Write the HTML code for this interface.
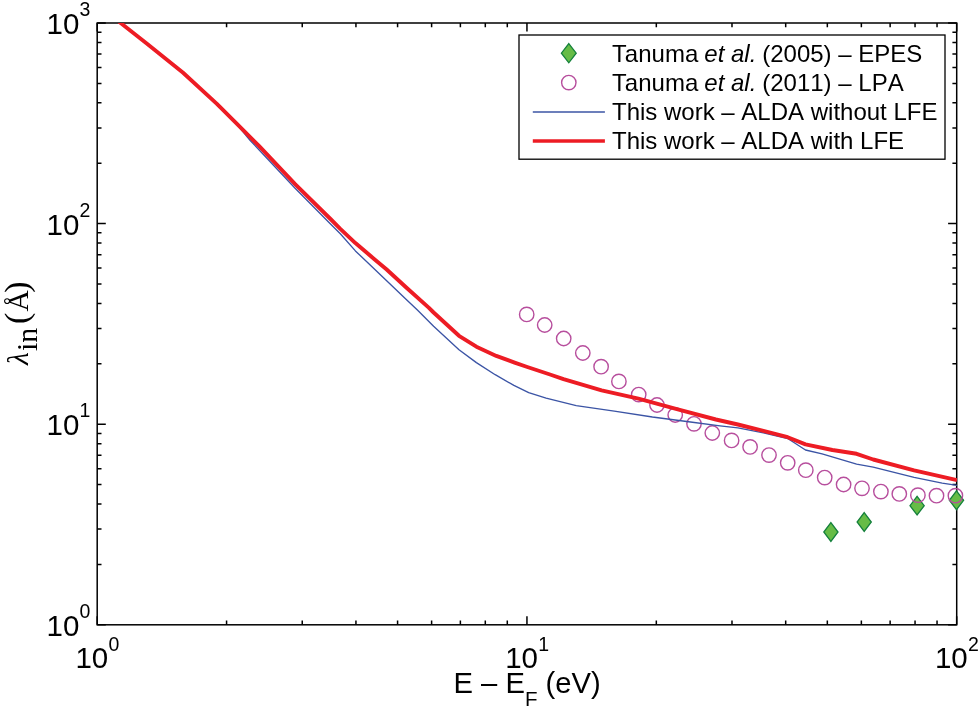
<!DOCTYPE html>
<html lang="en"><head><meta charset="utf-8"><title>Inelastic mean free path</title>
<style>
html,body{margin:0;padding:0;background:#fff;}
body{width:979px;height:709px;overflow:hidden;}
svg{display:block;}
text{font-family:"Liberation Sans",Arial,Helvetica,sans-serif;fill:#000;font-kerning:none;}
.tk{font-size:29.5px;}
.sp{font-size:19.5px;}
.lg{font-size:24px;}
.sf{font-family:"Liberation Serif","DejaVu Serif",serif;}
</style></head><body>
<svg width="979" height="709" viewBox="0 0 979 709">
<rect x="0" y="0" width="979" height="709" fill="#ffffff"/>
<defs><clipPath id="ax"><rect x="97.2" y="23.0" width="859.9" height="601.8"/></clipPath></defs>

<path d="M97.20 624.8 v-8.6 M97.20 23.0 v8.6 M226.57 624.8 v-4.3 M226.57 23.0 v4.3 M302.24 624.8 v-4.3 M302.24 23.0 v4.3 M355.94 624.8 v-4.3 M355.94 23.0 v4.3 M397.58 624.8 v-4.3 M397.58 23.0 v4.3 M431.61 624.8 v-4.3 M431.61 23.0 v4.3 M460.38 624.8 v-4.3 M460.38 23.0 v4.3 M485.30 624.8 v-4.3 M485.30 23.0 v4.3 M507.29 624.8 v-4.3 M507.29 23.0 v4.3 M526.95 624.8 v-8.6 M526.95 23.0 v8.6 M656.32 624.8 v-4.3 M656.32 23.0 v4.3 M731.99 624.8 v-4.3 M731.99 23.0 v4.3 M785.69 624.8 v-4.3 M785.69 23.0 v4.3 M827.33 624.8 v-4.3 M827.33 23.0 v4.3 M861.36 624.8 v-4.3 M861.36 23.0 v4.3 M890.13 624.8 v-4.3 M890.13 23.0 v4.3 M915.05 624.8 v-4.3 M915.05 23.0 v4.3 M937.04 624.8 v-4.3 M937.04 23.0 v4.3 M956.7 624.8 v-8.6 M956.7 23.0 v8.6 M97.2 624.80 h8.6 M956.7 624.80 h-8.6 M97.2 564.41 h4.3 M956.7 564.41 h-4.3 M97.2 529.09 h4.3 M956.7 529.09 h-4.3 M97.2 504.03 h4.3 M956.7 504.03 h-4.3 M97.2 484.59 h4.3 M956.7 484.59 h-4.3 M97.2 468.70 h4.3 M956.7 468.70 h-4.3 M97.2 455.27 h4.3 M956.7 455.27 h-4.3 M97.2 443.64 h4.3 M956.7 443.64 h-4.3 M97.2 433.38 h4.3 M956.7 433.38 h-4.3 M97.2 424.20 h8.6 M956.7 424.20 h-8.6 M97.2 363.81 h4.3 M956.7 363.81 h-4.3 M97.2 328.49 h4.3 M956.7 328.49 h-4.3 M97.2 303.43 h4.3 M956.7 303.43 h-4.3 M97.2 283.99 h4.3 M956.7 283.99 h-4.3 M97.2 268.10 h4.3 M956.7 268.10 h-4.3 M97.2 254.67 h4.3 M956.7 254.67 h-4.3 M97.2 243.04 h4.3 M956.7 243.04 h-4.3 M97.2 232.78 h4.3 M956.7 232.78 h-4.3 M97.2 223.60 h8.6 M956.7 223.60 h-8.6 M97.2 163.21 h4.3 M956.7 163.21 h-4.3 M97.2 127.89 h4.3 M956.7 127.89 h-4.3 M97.2 102.83 h4.3 M956.7 102.83 h-4.3 M97.2 83.39 h4.3 M956.7 83.39 h-4.3 M97.2 67.50 h4.3 M956.7 67.50 h-4.3 M97.2 54.07 h4.3 M956.7 54.07 h-4.3 M97.2 42.44 h4.3 M956.7 42.44 h-4.3 M97.2 32.18 h4.3 M956.7 32.18 h-4.3 M97.2 23.00 h8.6 M956.7 23.00 h-8.6" stroke="#000" stroke-width="1.5" fill="none"/>
<rect x="97.2" y="23.0" width="859.5" height="601.8" fill="none" stroke="#000" stroke-width="1.5"/>
<polygon points="830.9,522.6 838.0,532.0 830.9,541.4 823.8,532.0" fill="#66bc46" stroke="#14803c" stroke-width="1.3" stroke-linejoin="miter"/>
<polygon points="864.2,512.6 871.3,522.0 864.2,531.4 857.1,522.0" fill="#66bc46" stroke="#14803c" stroke-width="1.3" stroke-linejoin="miter"/>
<polygon points="917.1,496.3 924.2,505.7 917.1,515.0 910.0,505.7" fill="#66bc46" stroke="#14803c" stroke-width="1.3" stroke-linejoin="miter"/>
<polygon points="956.5,490.9 963.6,500.3 956.5,509.7 949.4,500.3" fill="#66bc46" stroke="#14803c" stroke-width="1.3" stroke-linejoin="miter"/>
<circle cx="526.7" cy="314.4" r="7.2" fill="none" stroke="#b74e9d" stroke-width="1.4"/>
<circle cx="544.7" cy="325.0" r="7.2" fill="none" stroke="#b74e9d" stroke-width="1.4"/>
<circle cx="563.7" cy="338.5" r="7.2" fill="none" stroke="#b74e9d" stroke-width="1.4"/>
<circle cx="582.8" cy="353.0" r="7.2" fill="none" stroke="#b74e9d" stroke-width="1.4"/>
<circle cx="601.1" cy="366.7" r="7.2" fill="none" stroke="#b74e9d" stroke-width="1.4"/>
<circle cx="618.9" cy="381.4" r="7.2" fill="none" stroke="#b74e9d" stroke-width="1.4"/>
<circle cx="638.7" cy="394.6" r="7.2" fill="none" stroke="#b74e9d" stroke-width="1.4"/>
<circle cx="657.0" cy="405.0" r="7.2" fill="none" stroke="#b74e9d" stroke-width="1.4"/>
<circle cx="675.2" cy="415.0" r="7.2" fill="none" stroke="#b74e9d" stroke-width="1.4"/>
<circle cx="694.0" cy="423.8" r="7.2" fill="none" stroke="#b74e9d" stroke-width="1.4"/>
<circle cx="712.3" cy="433.0" r="7.2" fill="none" stroke="#b74e9d" stroke-width="1.4"/>
<circle cx="731.6" cy="440.4" r="7.2" fill="none" stroke="#b74e9d" stroke-width="1.4"/>
<circle cx="750.1" cy="446.9" r="7.2" fill="none" stroke="#b74e9d" stroke-width="1.4"/>
<circle cx="769.0" cy="455.1" r="7.2" fill="none" stroke="#b74e9d" stroke-width="1.4"/>
<circle cx="787.7" cy="462.8" r="7.2" fill="none" stroke="#b74e9d" stroke-width="1.4"/>
<circle cx="805.8" cy="470.2" r="7.2" fill="none" stroke="#b74e9d" stroke-width="1.4"/>
<circle cx="824.7" cy="477.6" r="7.2" fill="none" stroke="#b74e9d" stroke-width="1.4"/>
<circle cx="843.6" cy="484.5" r="7.2" fill="none" stroke="#b74e9d" stroke-width="1.4"/>
<circle cx="862.0" cy="488.3" r="7.2" fill="none" stroke="#b74e9d" stroke-width="1.4"/>
<circle cx="880.9" cy="491.6" r="7.2" fill="none" stroke="#b74e9d" stroke-width="1.4"/>
<circle cx="899.3" cy="493.9" r="7.2" fill="none" stroke="#b74e9d" stroke-width="1.4"/>
<circle cx="917.9" cy="495.2" r="7.2" fill="none" stroke="#b74e9d" stroke-width="1.4"/>
<circle cx="936.5" cy="495.7" r="7.2" fill="none" stroke="#b74e9d" stroke-width="1.4"/>
<circle cx="955.4" cy="495.7" r="7.2" fill="none" stroke="#b74e9d" stroke-width="1.4"/>
<g clip-path="url(#ax)">
<polyline points="97.0,4.0 121.0,23.3 146.4,43.2 183.1,72.8 216.9,103.9 236.7,124.0 250.0,140.2 295.1,188.2 330.0,223.4 340.3,233.8 355.4,250.9 386.4,280.5 406.8,300.1 417.4,310.0 433.6,326.2 459.0,349.7 476.4,362.6 495.2,374.7 513.9,385.4 528.7,392.6 546.1,398.2 576.2,405.6 614.3,411.1 652.4,417.0 690.5,422.0 720.0,425.8 737.9,427.8 763.4,432.9 787.7,438.5 805.5,450.0 822.1,453.8 856.6,464.1 873.2,467.1 914.1,477.3 942.2,483.2 957.0,485.4" fill="none" stroke="#3b54a5" stroke-width="1.35" stroke-linejoin="round"/>
<polyline points="97.0,4.0 121.0,23.3 146.4,43.2 183.1,72.8 216.9,103.9 236.7,123.6 259.2,146.2 295.1,184.2 330.0,218.5 340.3,228.8 355.4,243.1 374.1,258.9 386.4,269.2 406.8,288.0 428.7,307.6 433.6,312.5 459.0,335.8 476.4,346.7 496.3,355.9 514.6,362.6 527.3,367.0 550.0,374.5 563.5,379.2 601.6,390.3 638.4,398.7 677.8,409.4 715.9,419.5 737.9,424.5 763.4,430.9 787.7,437.2 805.5,444.4 832.4,450.0 856.6,453.8 873.2,459.5 914.1,470.4 957.0,480.2" fill="none" stroke="#ed1c24" stroke-width="3.9" stroke-linejoin="round"/>
</g>
<text class="tk" x="90.4" y="635.8" text-anchor="end">10<tspan class="sp" dx="0.2" dy="-17.8">0</tspan></text>
<text class="tk" x="90.4" y="435.2" text-anchor="end">10<tspan class="sp" dx="0.2" dy="-17.8">1</tspan></text>
<text class="tk" x="90.4" y="234.6" text-anchor="end">10<tspan class="sp" dx="0.2" dy="-17.8">2</tspan></text>
<text class="tk" x="90.4" y="34.0" text-anchor="end">10<tspan class="sp" dx="0.2" dy="-17.8">3</tspan></text>
<text class="tk" x="75.4" y="667.5">10<tspan class="sp" dx="0.2" dy="-16.8">0</tspan></text>
<text class="tk" x="505.2" y="667.5">10<tspan class="sp" dx="0.2" dy="-16.8">1</tspan></text>
<text class="tk" x="934.9" y="667.5">10<tspan class="sp" dx="0.2" dy="-16.8">2</tspan></text>
<text class="tk" style="font-size:29.2px" x="453.5" y="692.5">E – E<tspan font-size="20.5" dy="13">F</tspan><tspan dy="-13"> (eV)</tspan></text>
<text class="sf" transform="translate(28.2,366) rotate(-90)" font-size="29.5"><tspan x="1" y="0" font-style="italic">λ</tspan><tspan x="15" y="9.2" font-size="30" letter-spacing="0">in</tspan><tspan x="42" y="0" font-size="34">(</tspan><tspan x="54.5" y="0">Å</tspan><tspan x="73.3" y="0" font-size="34">)</tspan></text>
<rect x="519" y="35" width="426" height="124.19999999999999" fill="#fff" stroke="#000" stroke-width="1.3"/>
<polygon points="568.8,43.6 576.2,53.2 568.8,62.8 561.4,53.2" fill="#66bc46" stroke="#14803c" stroke-width="1.3" stroke-linejoin="miter"/>
<circle cx="568.8" cy="82.6" r="7.2" fill="none" stroke="#b74e9d" stroke-width="1.4"/>
<line x1="532.8" x2="604.9" y1="112.0" y2="112.0" stroke="#3b54a5" stroke-width="1.35"/>
<line x1="532.8" x2="604.9" y1="141.0" y2="141.0" stroke="#ed1c24" stroke-width="3.5"/>
<text class="lg" x="612" y="61.5">T<tspan dx="-1.8">anuma </tspan><tspan font-style="italic" dx="-0.6">et al.</tspan><tspan dx="-0.8"> (2005) – EPES</tspan></text>
<text class="lg" x="612" y="90.89999999999999">T<tspan dx="-1.8">anuma </tspan><tspan font-style="italic" dx="-0.6">et al.</tspan><tspan dx="-0.8"> (2011) – LPA</tspan></text>
<text class="lg" x="612" y="119.8">This work – ALDA without LFE</text>
<text class="lg" x="612" y="149.2">This work – ALDA with LFE</text>
</svg>
</body></html>
